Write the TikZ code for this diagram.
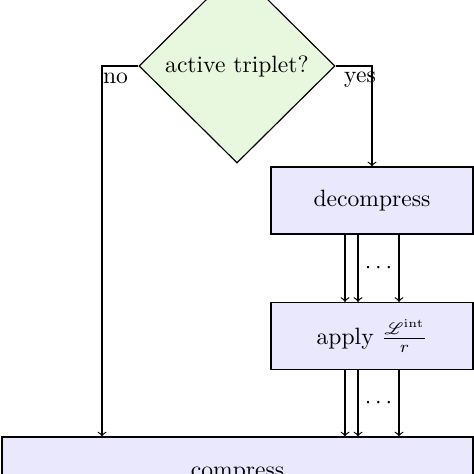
\documentclass[tikz,border=0pt]{standalone}
\usepackage{mathrsfs}
\usetikzlibrary{shapes.geometric}
\definecolor{dfill}{RGB}{232,248,222}
\definecolor{bfill}{RGB}{234,232,252}
\begin{document}
\begin{tikzpicture}[x=0.424pt,y=-0.424pt,line width=0.5pt,
  decision/.style={diamond,draw,fill=dfill,inner sep=0pt,minimum width=196*0.424pt,minimum height=194*0.424pt},
  procbox/.style={rectangle,draw,fill=bfill,inner sep=0pt,minimum height=67*0.424pt},
  flow/.style={->},
  lbl/.style={anchor=base,inner sep=0pt}]
\useasboundingbox (0,0) rectangle (474,474);
\node[decision] (dia) at (237,66) {active triplet?};
\node[procbox,minimum width=202*0.424pt] (dec) at (372,200.5) {decompress};
\node[procbox,minimum width=202*0.424pt] (app) at (372,336) {apply $\frac{\mathscr{L}^{\mathrm{int}}}{r}$};
\node[procbox,minimum width=471*0.424pt,minimum height=74*0.424pt] (comp) at (237.5,474) {compress};
\coordinate (nx) at (102,0);
\coordinate (a1) at (345,0);
\coordinate (a2) at (358,0);
\coordinate (a3) at (399,0);
\draw[flow] (dia.west) -| (comp.north -| nx);
\draw[flow] (dia.east) -| (dec.north);
\node[lbl] (no) at (115.5,84) {no};
\node[lbl] (yes) at (360,83) {yes};
\foreach \a in {a1,a2,a3}{
  \draw[flow] (dec.south -| \a) -- (app.north -| \a);
  \draw[flow] (app.south -| \a) -- (comp.north -| \a);
}
\node (d1) at (378.5,268) {$\cdots$};
\node (d2) at (378.5,403) {$\cdots$};
\end{tikzpicture}
\end{document}
